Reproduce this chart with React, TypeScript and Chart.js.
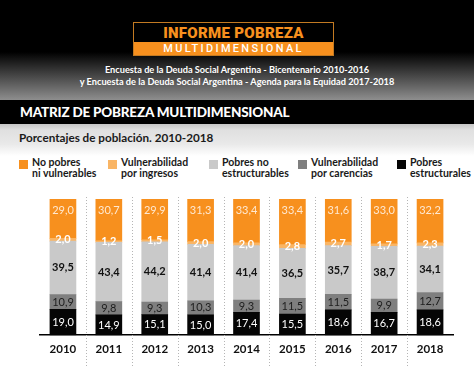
import React, { useEffect, useRef } from "react";
import { Chart, registerables } from "chart.js";

Chart.register(...registerables);

const years = ["2010", "2011", "2012", "2013", "2014", "2015", "2016", "2017", "2018"];
const noPobres = [29.0, 30.7, 29.9, 31.3, 33.4, 33.4, 31.6, 33.0, 32.2];
const vulnIngresos = [2.0, 1.2, 1.5, 2.0, 2.0, 2.8, 2.7, 1.7, 2.3];
const pobresNoEstr = [39.5, 43.4, 44.2, 41.4, 41.4, 36.5, 35.7, 38.7, 34.1];
const vulnCarencias = [10.9, 9.8, 9.3, 10.3, 9.3, 11.5, 11.5, 9.9, 12.7];
const pobresEstr = [19.0, 14.9, 15.1, 15.0, 17.4, 15.5, 18.6, 16.7, 18.6];

const seriesNames = [
  ["No pobres", "ni vulnerables"],
  ["Vulnerabilidad", "por ingresos"],
  ["Pobres no", "estructurables"],
  ["Vulnerabilidad", "por carencias"],
  ["Pobres", "estructurales"],
];

const C_ORANGE = "#F7901E";
const C_LORANGE = "#F9B565";
const C_LGRAY = "#C9C9C9";
const C_DGRAY = "#7F7F7F";
const C_BLACK = "#050505";

const totals = years.map(
  (_, i) => noPobres[i] + vulnIngresos[i] + pobresNoEstr[i] + vulnCarencias[i] + pobresEstr[i]
);
const norm = (arr: number[]) => arr.map((v, i) => (v / totals[i]) * 100);
const fmt = (v: number) => v.toFixed(1).replace(".", ",");

const labelPlugin = {
  id: "segLabels",
  afterDatasetsDraw(chart: any) {
    const ctx = chart.ctx;
    ctx.save();
    ctx.textAlign = "center";
    ctx.textBaseline = "middle";
    chart.data.datasets.forEach((ds: any, i: number) => {
      const meta = chart.getDatasetMeta(i);
      meta.data.forEach((el: any, j: number) => {
        const raw = ds.rawValues[j];
        const top = Math.min(el.y, el.base);
        const bottom = Math.max(el.y, el.base);
        const y = ds.labelAtTop ? top + 11.5 : (top + bottom) / 2;
        ctx.font = `${ds.labelWeight} 11px Lato`;
        ctx.fillStyle = ds.labelColor;
        ctx.fillText(fmt(raw), el.x, y);
      });
    });
    ctx.restore();
  },
};

const sepPlugin = {
  id: "separators",
  beforeDatasetsDraw(chart: any) {
    const ctx = chart.ctx;
    const xs = chart.scales.x;
    ctx.save();
    ctx.strokeStyle = "#b5b5b5";
    ctx.lineWidth = 1;
    ctx.setLineDash([1, 2]);
    for (let i = 0; i < years.length - 1; i++) {
      const x = Math.round((xs.getPixelForValue(i) + xs.getPixelForValue(i + 1)) / 2) + 0.5;
      ctx.beginPath();
      ctx.moveTo(x, chart.chartArea.top - 2);
      ctx.lineTo(x, chart.height);
      ctx.stroke();
    }
    ctx.restore();
  },
};

function BarChart() {
  const ref = useRef<HTMLCanvasElement | null>(null);
  useEffect(() => {
    if (!ref.current) return;
    const mk = (label: string, data: number[], color: string, labelColor: string, labelWeight: string, labelAtTop = false) => ({
      label,
      data: norm(data),
      rawValues: data,
      backgroundColor: color,
      borderWidth: 0,
      barThickness: 26,
      labelColor,
      labelWeight,
      labelAtTop,
    });
    const chart = new Chart(ref.current, {
      type: "bar",
      data: {
        labels: years,
        datasets: [
          mk("Pobres estructurales", pobresEstr, C_BLACK, "#ffffff", "normal"),
          mk("Vulnerabilidad por carencias", vulnCarencias, C_DGRAY, "#1e1e1e", "normal"),
          mk("Pobres no estructurables", pobresNoEstr, C_LGRAY, "#111111", "bold"),
          mk("Vulnerabilidad por ingresos", vulnIngresos, C_LORANGE, "#ffffff", "bold"),
          mk("No pobres ni vulnerables", noPobres, C_ORANGE, "rgba(255,240,225,0.92)", "normal", true),
        ] as any,
      },
      options: {
        animation: false,
        responsive: false,
        maintainAspectRatio: false,
        layout: { padding: { top: 14, left: 40, right: 21, bottom: 3 } },
        plugins: { legend: { display: false }, tooltip: { enabled: false } },
        scales: {
          x: {
            stacked: true,
            grid: { display: false, drawTicks: false },
            border: { display: true, color: "#000", width: 1.5 },
            ticks: { color: "#111", padding: 7, font: { family: "Lato", size: 11.5, weight: "bold" } },
          },
          y: { stacked: true, display: false, min: 0, max: 100 },
        },
      },
      plugins: [sepPlugin, labelPlugin],
    });
    return () => chart.destroy();
  }, []);
  return <canvas ref={ref} width={474} height={181} style={{ position: "absolute", left: 0, top: 185, width: 474, height: 181 }} />;
}

const legendColors = [C_ORANGE, C_LORANGE, C_LGRAY, C_DGRAY, C_BLACK];
const legendBoxX = [19, 108, 209, 298, 397];

export default function App() {
  return (
    <div style={{ position: "relative", width: 474, height: 366, overflow: "hidden", background: "#fff", fontFamily: "Lato, sans-serif" }}>
      <style>{`body{margin:0}`}</style>
      <div style={{ position: "absolute", left: 0, top: 0, width: 474, height: 100, background: "linear-gradient(to bottom, #000 0px, #000 52px, #8e8e8e 100px)" }} />
      <div style={{ position: "absolute", left: 133, top: 22, width: 199, height: 32, border: "1px solid #c37a22", background: "#000" }}>
        <div style={{ height: 19, color: C_ORANGE, fontFamily: "Roboto, sans-serif", fontWeight: 900, fontSize: 15, lineHeight: "20px", textAlign: "center", letterSpacing: 0.3 }}>INFORME POBREZA</div>
        <div style={{ height: 13, background: C_ORANGE, color: "#fff", fontFamily: "Roboto, sans-serif", fontWeight: 500, fontSize: 11, lineHeight: "13px", textAlign: "center", letterSpacing: 2.3 }}>MULTIDIMENSIONAL</div>
      </div>
      <div style={{ position: "absolute", left: 0, top: 64, width: 474, textAlign: "center", color: "#fff", fontWeight: "bold", fontSize: 9.2, lineHeight: "11.5px" }}>
        <div>Encuesta de la Deuda Social Argentina - Bicentenario 2010-2016</div>
        <div>y Encuesta de la Deuda Social Argentina - Agenda para la Equidad 2017-2018</div>
      </div>
      <div style={{ position: "absolute", left: 0, top: 100, width: 474, height: 24, background: "#000" }}>
        <div style={{ position: "absolute", left: 20, top: 0, lineHeight: "24px", color: "#fff", fontWeight: 900, fontSize: 13.5, letterSpacing: -0.2 }}>MATRIZ DE POBREZA MULTIDIMENSIONAL</div>
      </div>
      <div style={{ position: "absolute", left: 0, top: 124, width: 474, height: 32, background: "linear-gradient(to bottom, #c6c6c6 0px, #e0e0e0 6px, #e9e9e9 20px, #ffffff 32px)" }}>
        <div style={{ position: "absolute", left: 19, top: 5, lineHeight: "16px", color: "#1a1a1a", fontWeight: "bold", fontSize: 11.7 }}>Porcentajes de población. 2010-2018</div>
      </div>
      {seriesNames.map((lines, i) => (
        <div key={i}>
          <div style={{ position: "absolute", left: legendBoxX[i], top: 160, width: 9, height: 9, background: legendColors[i] }} />
          <div style={{ position: "absolute", left: legendBoxX[i] + 13, top: 157, color: "#1a1a1a", fontWeight: "bold", fontSize: 10.5, lineHeight: "10.5px", whiteSpace: "nowrap" }}>
            <div>{lines[0]}</div>
            <div>{lines[1]}</div>
          </div>
        </div>
      ))}
      <BarChart />
    </div>
  );
}
